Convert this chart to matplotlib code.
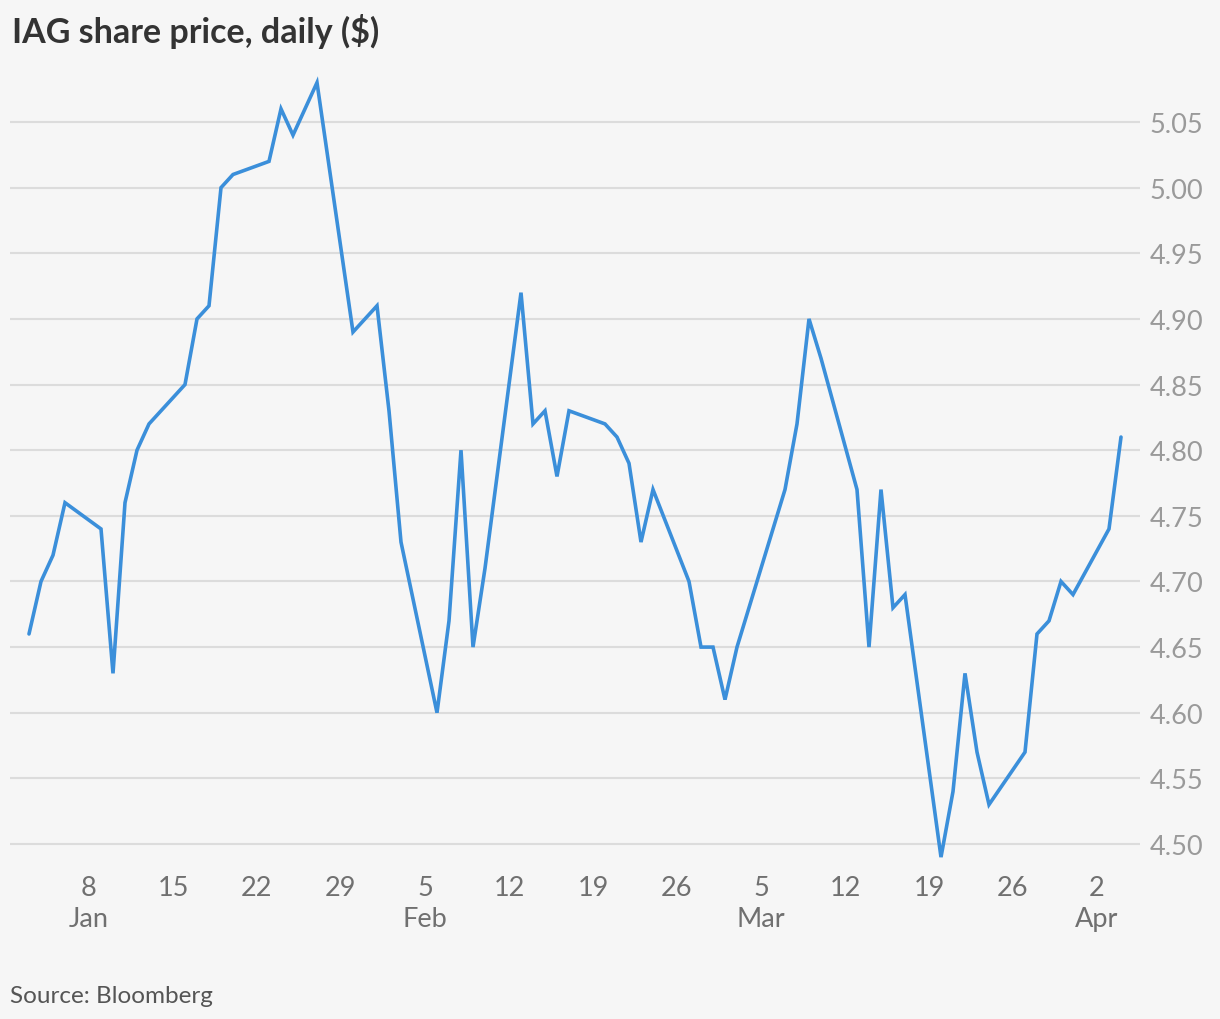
import matplotlib
matplotlib.use("Agg")
import matplotlib.pyplot as plt
import pandas as pd

# IAG closing price, as positioned on the chart's date axis (2018)
dates = [
    "2018-01-03", "2018-01-04", "2018-01-05", "2018-01-06",
    "2018-01-09", "2018-01-10", "2018-01-11", "2018-01-12", "2018-01-13",
    "2018-01-16", "2018-01-17", "2018-01-18", "2018-01-19", "2018-01-20",
    "2018-01-23", "2018-01-24", "2018-01-25", "2018-01-27",
    "2018-01-30", "2018-02-01", "2018-02-02", "2018-02-03",
    "2018-02-06", "2018-02-07", "2018-02-08", "2018-02-09", "2018-02-10",
    "2018-02-13", "2018-02-14", "2018-02-15", "2018-02-16", "2018-02-17",
    "2018-02-20", "2018-02-21", "2018-02-22", "2018-02-23", "2018-02-24",
    "2018-02-27", "2018-02-28", "2018-03-01", "2018-03-02", "2018-03-03",
    "2018-03-07", "2018-03-08", "2018-03-09", "2018-03-10",
    "2018-03-13", "2018-03-14", "2018-03-15", "2018-03-16", "2018-03-17",
    "2018-03-20", "2018-03-21", "2018-03-22", "2018-03-23", "2018-03-24",
    "2018-03-27", "2018-03-28", "2018-03-29", "2018-03-30", "2018-03-31",
    "2018-04-03", "2018-04-04",
]
prices = [
    4.66, 4.70, 4.72, 4.76,
    4.74, 4.63, 4.76, 4.80, 4.82,
    4.85, 4.90, 4.91, 5.00, 5.01,
    5.02, 5.06, 5.04, 5.08,
    4.89, 4.91, 4.83, 4.73,
    4.60, 4.67, 4.80, 4.65, 4.71,
    4.92, 4.82, 4.83, 4.78, 4.83,
    4.82, 4.81, 4.79, 4.73, 4.77,
    4.70, 4.65, 4.65, 4.61, 4.65,
    4.77, 4.82, 4.90, 4.87,
    4.77, 4.65, 4.77, 4.68, 4.69,
    4.49, 4.54, 4.63, 4.57, 4.53,
    4.57, 4.66, 4.67, 4.70, 4.69,
    4.74, 4.81,
]

tick_dates = ["2018-01-08", "2018-01-15", "2018-01-22", "2018-01-29",
              "2018-02-05", "2018-02-12", "2018-02-19", "2018-02-26",
              "2018-03-05", "2018-03-12", "2018-03-19", "2018-03-26",
              "2018-04-02"]
tick_labels = ["8\nJan", "15", "22", "29", "5\nFeb", "12", "19", "26",
               "5\nMar", "12", "19", "26", "2\nApr"]
y_ticks = [4.50, 4.55, 4.60, 4.65, 4.70, 4.75, 4.80, 4.85, 4.90, 4.95, 5.00, 5.05]

bg = "#f6f6f6"
plt.rcParams["font.family"] = ["Lato", "DejaVu Sans"]

W, H = 1220, 1020
fig = plt.figure(figsize=(W / 100, H / 100), dpi=100, facecolor=bg)
ax = fig.add_axes([10 / W, 1 - 870 / H, 1130 / W, 800 / H], facecolor=bg)

x = pd.to_datetime(dates)
ax.plot(x, prices, color="#3b8fda", lw=2.6, solid_joinstyle="miter",
        solid_capstyle="round", zorder=3)

# x range: Jan 8 sits 79px from the left edge at 12px per day
start = pd.Timestamp("2018-01-08") - pd.Timedelta(days=79 / 12)
end = pd.Timestamp("2018-01-08") + pd.Timedelta(days=1051 / 12)
ax.set_xlim(start, end)
ax.set_ylim(4.50 - 25 / 1312.7, 5.05 + 53 / 1312.7)

ax.set_xticks(pd.to_datetime(tick_dates))
ax.set_xticklabels(tick_labels, fontsize=19.5, color="#707070", linespacing=1.32)
ax.set_yticks(y_ticks)
ax.set_yticklabels([f"{v:.2f}" for v in y_ticks], fontsize=19.5, color="#9a9a9a")
ax.yaxis.tick_right()
ax.tick_params(axis="both", length=0)
ax.tick_params(axis="x", pad=4)
ax.tick_params(axis="y", pad=7)

ax.grid(axis="y", color="#dcdcdc", lw=1.5)
ax.grid(axis="x", visible=False)
for s in ax.spines.values():
    s.set_visible(False)

fig.text(12 / W, 1 - 43 / H, "IAG share price, daily ($)", fontsize=24.5,
         fontweight="bold", color="#333333")
fig.text(10 / W, 1 - 1003 / H, "Source: Bloomberg", fontsize=17.5, color="#555555")

fig.savefig("out.png", dpi=100, facecolor=bg)
